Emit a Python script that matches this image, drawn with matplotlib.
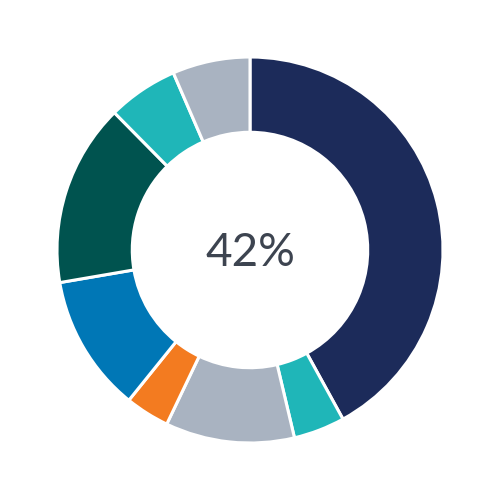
import matplotlib
matplotlib.use("Agg")
import matplotlib.pyplot as plt

labels = ["A", "B", "C", "D", "E", "F", "G", "H"]
values = [42, 4.3, 10.8, 3.7, 11.5, 15.3, 5.9, 6.5]
colors = ["#1c2b5a", "#1fb6b8", "#a9b3c1", "#f37b20", "#0077b6", "#00534f", "#1fb6b8", "#a9b3c1"]
center_text = "42%"

fig = plt.figure(figsize=(5, 5), dpi=100)
ax = fig.add_axes([0, 0, 1, 1])
ax.pie(values, colors=colors, startangle=90, counterclock=False, radius=1.0,
       wedgeprops=dict(width=0.39, edgecolor="white", linewidth=2.2))
lim = 250 / 193
ax.set_xlim(-lim, lim)
ax.set_ylim(-lim, lim)
ax.set_aspect("equal")
ax.axis("off")
ax.text(0, -0.015, center_text, ha="center", va="center", fontsize=33,
        color="#3d4450", family=["Lato", "DejaVu Sans"])
fig.savefig("out.png", dpi=100)
